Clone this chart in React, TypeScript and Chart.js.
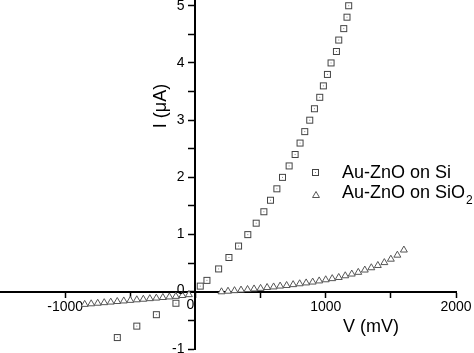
import React, { useEffect, useRef } from 'react';
import { Chart, registerables } from 'chart.js';

Chart.register(...registerables);

// Au-ZnO on Si (squares)
const siVoltage = [-600, -450, -300, -150, 37, 88, 178, 257, 331, 402, 466, 525, 576, 625, 668, 719, 765, 803, 839, 877, 913, 954, 982, 1013, 1041, 1082, 1100, 1138, 1163, 1176];
const siCurrent = [-0.8, -0.6, -0.4, -0.2, 0.1, 0.2, 0.4, 0.6, 0.8, 1.0, 1.2, 1.4, 1.6, 1.8, 2.0, 2.2, 2.4, 2.6, 2.8, 3.0, 3.2, 3.4, 3.6, 3.8, 4.0, 4.2, 4.4, 4.6, 4.8, 5.0];

// Au-ZnO on SiO2 (triangles)
const sio2Voltage = [
  -850, -800, -750, -700, -650, -600, -550, -500, -450, -400, -350, -300, -250, -200, -150, -100, -50,
  200, 250, 300, 350, 400, 450, 500, 550, 600, 650, 700, 750, 800, 850, 900, 950, 1000, 1050, 1100, 1150, 1200, 1250, 1300, 1350, 1400, 1450, 1500, 1550, 1600,
];
const sio2Current = [
  -0.22, -0.21, -0.2, -0.19, -0.18, -0.17, -0.16, -0.15, -0.14, -0.13, -0.12, -0.11, -0.1, -0.09, -0.08, -0.065, -0.05,
  0.0, 0.01, 0.02, 0.03, 0.04, 0.05, 0.06, 0.075, 0.085, 0.1, 0.11, 0.125, 0.14, 0.155, 0.17, 0.19, 0.21, 0.23, 0.25, 0.28, 0.31, 0.34, 0.38, 0.42, 0.46, 0.51, 0.57, 0.64, 0.73,
];

const seriesNames = ['Au-ZnO on Si', 'Au-ZnO on SiO'];
const xTitle = 'V (mV)';
const yTitle = 'I (μA)';
const xLabelTicks = [-1000, 1000, 2000];
const yLabelTicks = [-1, 0, 1, 2, 3, 4, 5];

const FONT = '"Liberation Sans", Arial, sans-serif';

const zeroPad = (scale: any) => {
  scale.paddingLeft = 0;
  scale.paddingRight = 0;
  scale.paddingTop = 0;
  scale.paddingBottom = 0;
};

export default function App() {
  const ref = useRef<HTMLCanvasElement>(null);

  useEffect(() => {
    const canvas = ref.current!;
    const sq = document.createElement('canvas');
    sq.width = 9;
    sq.height = 9;
    const c = sq.getContext('2d')!;
    c.strokeStyle = '#444';
    c.lineWidth = 1;
    c.strokeRect(1.5, 1.5, 6, 6);
    c.fillStyle = '#888';
    c.fillRect(4, 4, 1, 1);

    const overlay = {
      id: 'overlay',
      afterDraw(chart: any) {
        const ctx = chart.ctx as CanvasRenderingContext2D;
        const xs = chart.scales.x;
        const ys = chart.scales.y;
        const x0 = xs.getPixelForValue(0);
        const y0 = ys.getPixelForValue(0);
        ctx.save();
        ctx.fillStyle = '#000';
        ctx.font = `14px ${FONT}`;
        ctx.textAlign = 'center';
        ctx.textBaseline = 'middle';
        ctx.fillText('0', x0 - 5, y0 + 13);

        // y tick labels, from the library's ticks
        ctx.textAlign = 'right';
        ys.ticks.forEach((t: any) => {
          if (!yLabelTicks.includes(t.value)) return;
          const py = ys.getPixelForValue(t.value) + (t.value === 0 ? -2 : 0);
          ctx.fillText(String(t.value), x0 - 11, py);
        });

        ctx.font = `18px ${FONT}`;
        ctx.textAlign = 'left';
        ctx.fillText(xTitle, 343, 327);
        ctx.save();
        ctx.translate(161, 106);
        ctx.rotate(-Math.PI / 2);
        ctx.textAlign = 'center';
        ctx.fillText(yTitle, 0, 0);
        ctx.restore();

        // legend
        ctx.drawImage(sq, 311, 168);
        ctx.beginPath();
        const tx = 316, ty = 195.5, r = 4;
        ctx.moveTo(tx, ty - r);
        ctx.lineTo(tx + 0.866 * r, ty + 0.5 * r);
        ctx.lineTo(tx - 0.866 * r, ty + 0.5 * r);
        ctx.closePath();
        ctx.fillStyle = '#fff';
        ctx.fill();
        ctx.strokeStyle = '#555';
        ctx.lineWidth = 1;
        ctx.stroke();

        ctx.fillStyle = '#000';
        ctx.fillText(seriesNames[0], 342, 173);
        ctx.fillText(seriesNames[1], 342, 193);
        const w = ctx.measureText(seriesNames[1]).width;
        ctx.font = `12px ${FONT}`;
        ctx.fillText('2', 342 + w + 1, 201);
        ctx.restore();
      },
    };

    const chart = new Chart(canvas, {
      type: 'scatter',
      data: {
        datasets: [
          {
            label: seriesNames[0],
            data: siVoltage.map((v, i) => ({ x: v, y: siCurrent[i] })),
            pointStyle: sq as any,
            pointRadius: 5,
            showLine: false,
          },
          {
            label: seriesNames[1] + '2',
            data: sio2Voltage.map((v, i) => ({ x: v, y: sio2Current[i] })),
            pointStyle: 'triangle',
            pointRadius: 4,
            pointBorderWidth: 1,
            pointBorderColor: '#555',
            pointBackgroundColor: '#fff',
            showLine: false,
          },
        ],
      },
      options: {
        animation: false,
        responsive: false,
        devicePixelRatio: 1,
        layout: { autoPadding: false, padding: { left: 0, right: 18, top: 0, bottom: 4 } },
        plugins: { legend: { display: false }, tooltip: { enabled: false } },
        scales: {
          x: {
            type: 'linear',
            position: { y: 0 } as any,
            min: -1500,
            max: 2000,
            afterFit: zeroPad,
            grid: {
              drawOnChartArea: false,
              drawTicks: true,
              tickLength: 5,
              tickColor: (ctx: any) => (ctx.tick && ctx.tick.value === -1500 ? 'rgba(0,0,0,0)' : '#000'),
              tickWidth: 1.5,
            },
            border: { color: '#000', width: 2 },
            ticks: {
              stepSize: 500,
              includeBounds: false,
              autoSkip: false,
              maxRotation: 0,
              padding: 2,
              color: '#000',
              font: { size: 14, family: FONT },
              callback: (v: any) => (xLabelTicks.includes(Number(v)) ? String(v) : ''),
            },
          },
          y: {
            type: 'linear',
            position: { x: 0 } as any,
            min: -1,
            max: 5.1,
            afterFit: zeroPad,
            grid: {
              drawOnChartArea: false,
              drawTicks: true,
              tickLength: 6,
              tickColor: '#000',
              tickWidth: 1.5,
            },
            border: { color: '#000', width: 2 },
            ticks: {
              stepSize: 0.5,
              includeBounds: false,
              autoSkip: false,
              display: false,
            },
          },
        },
      },
      plugins: [overlay],
    });
    return () => chart.destroy();
  }, []);

  return (
    <div style={{ position: 'fixed', left: 0, top: 0, width: 474, height: 353, background: '#fff' }}>
      <canvas ref={ref} width={474} height={353} />
    </div>
  );
}
